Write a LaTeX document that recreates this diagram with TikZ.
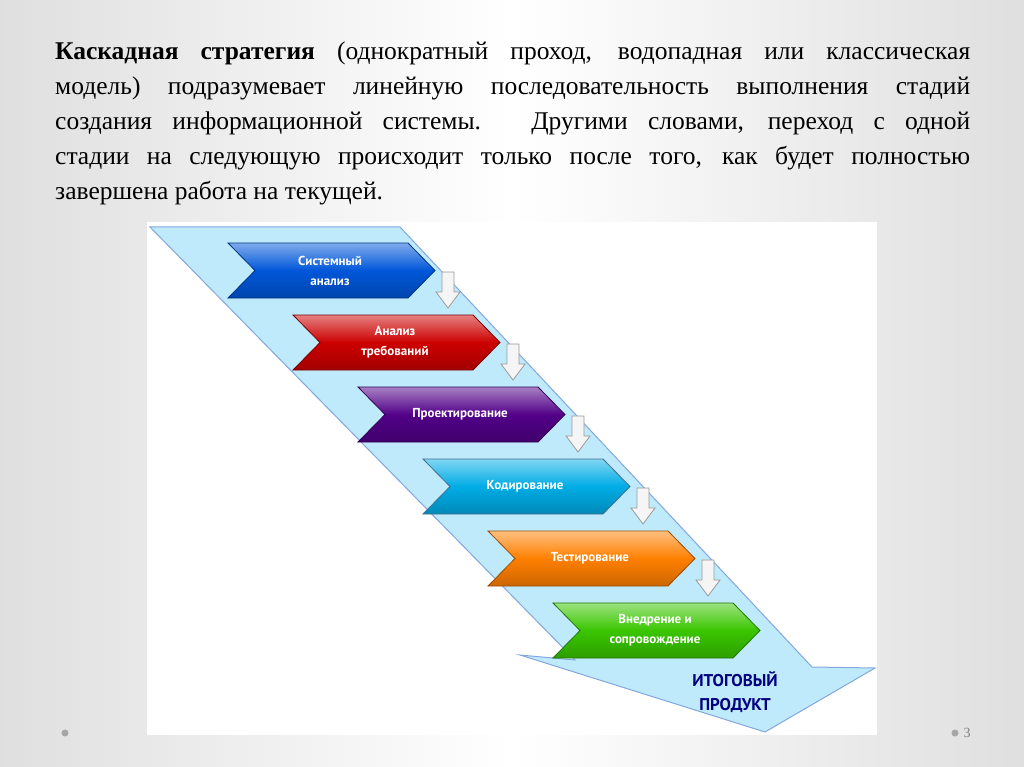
\documentclass[tikz,border=0pt]{standalone}
\usepackage{fontspec}
\setmainfont{Liberation Serif}
\newfontfamily\chevfont{PT Sans}
\begin{document}
\begin{tikzpicture}[x=1pt,y=-1pt,
  chev/.style={draw=#1!60!black, line width=0.8pt, top color=#1!50!white, bottom color=#1!80!black, middle color=#1},
  chevtext/.style={font=\chevfont\bfseries\fontsize{13}{20}\selectfont, text=white, align=center},
  darr/.style={draw=gray!80, line width=0.8pt, fill=white!92!gray}]
\useasboundingbox (0,0) rectangle (1024,767);
\shade[left color=gray!25, right color=gray!25, middle color=white] (0,0) rectangle (1024,767);
\fill[white] (147,222) rectangle (877,735);
% big arrow
\path[draw=cyan!50!blue!50, line width=1pt, fill=cyan!25!white]
  (150,227) -- (400,227) -- (812,667) -- (875,668) -- (765,732) -- (520,655) -- (575,660) -- cycle;
% text
\node[anchor=north west, inner sep=0pt, text width=915pt, align=justify, font=\fontsize{25.5}{35}\selectfont] (txt) at (55,42)
 {\textbf{Каскадная стратегия} (однократный проход, водопадная или классическая\linebreak модель) подразумевает линейную последовательность выполнения стадий\linebreak создания информационной системы. Другими словами, переход с одной\linebreak стадии на следующую происходит только после того, как будет полностью\linebreak завершена работа на текущей.};
% chevrons
\foreach \i/\c/\t in {0/blue!60!cyan!85!black/{Системный\\анализ},1/red!80!black/{Анализ\\требований},2/violet!75!blue!85!black/{Проектирование},3/cyan!75!blue!90!black/{Кодирование},4/orange/{Тестирование},5/green!55!olive/{Внедрение и\\сопровождение}}{
  \begin{scope}[shift={(65*\i,72*\i)}]
    \path[chev=\c] (228,243) -- (408,243) -- (435,270.5) -- (408,298) -- (228,298) -- (255,270.5) -- cycle;
    \node[chevtext] (c\i) at (330,270.5) {\t};
  \end{scope}}
\foreach \i in {0,...,4}{
  \begin{scope}[shift={(65*\i,72*\i)}]
    \path[darr] (442,272) -- (454,272) -- (454,292) -- (460,292) -- (448,308) -- (436,292) -- (442,292) -- cycle;
  \end{scope}}
\node[font=\chevfont\bfseries\fontsize{17}{24}\selectfont, text=blue!50!black, align=center] (res) at (735,692) {ИТОГОВЫЙ\\ПРОДУКТ};
\fill[gray!70] (65,733) circle (3.5);
\fill[gray!70] (955,733) circle (3.5);
\node[font=\fontsize{14}{16}\selectfont, text=gray] (num) at (967,733) {3};
\end{tikzpicture}
\end{document}
